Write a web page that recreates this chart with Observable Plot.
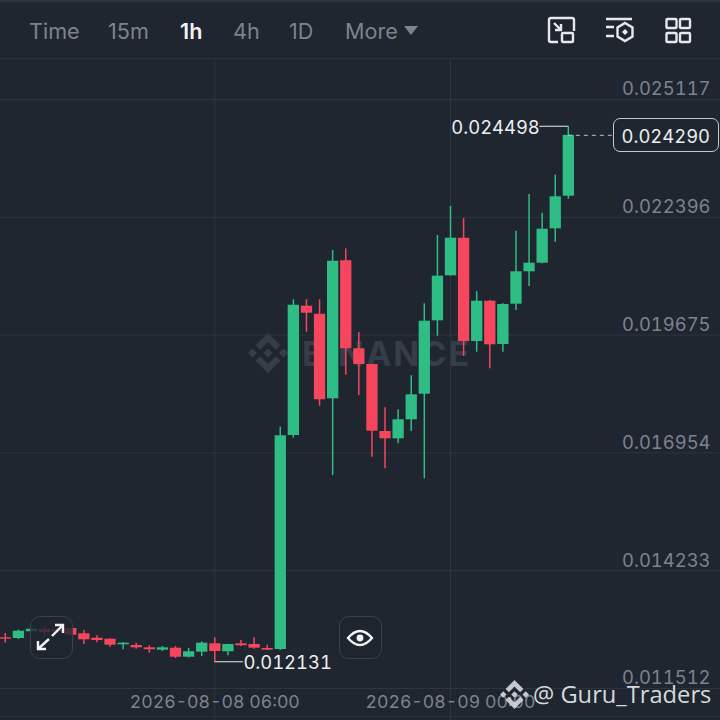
<!DOCTYPE html>
<html>
<head>
<meta charset="utf-8">
<script src="https://cdn.jsdelivr.net/npm/d3@7"></script>
<script src="https://cdn.jsdelivr.net/npm/@observablehq/plot@0.6"></script>
<style>
html,body{margin:0;padding:0;background:#1f2630;}
#stage{position:relative;width:720px;height:720px;overflow:hidden;background:#1f2630;font-family:Inter,sans-serif;}
.layer{position:absolute;left:0;top:0;width:720px;height:720px;pointer-events:none;}
.tb{position:absolute;top:17px;font-size:21.6px;line-height:28px;color:#7c838e;white-space:nowrap;}
.tb.on{color:#f2f3f5;font-weight:600;}
#topline{position:absolute;left:0;top:0;width:720px;height:2px;background:#2c333e;}
#toprule{position:absolute;left:0;top:58px;width:720px;height:1px;background:#2b323c;}
#botrule{position:absolute;left:0;top:716px;width:720px;height:1px;background:#2b323c;}
#wm{position:absolute;left:302px;top:333px;font-size:34px;line-height:42px;font-weight:700;letter-spacing:2px;color:#363d48;}
.btn{position:absolute;top:616px;width:41px;height:41px;border:1.5px solid #3a414c;border-radius:10px;background:rgba(31,38,48,.8);}
#guru{position:absolute;left:533px;top:678px;font-family:"Open Sans",sans-serif;font-size:23.7px;line-height:32px;color:#d6d9dd;white-space:nowrap;}
#plotbox{position:absolute;left:0;top:59px;}
#lastbox{position:absolute;box-sizing:border-box;left:613px;width:106px;height:34px;border:1.3px solid #c4c8ce;border-radius:7px;background:#1f2630;}
</style>
</head>
<body>
<div id="stage">
  <div class="layer" id="back">
    <div id="topline"></div><div id="toprule"></div><div id="botrule"></div>
    <svg style="position:absolute;left:248px;top:333px" width="40" height="40" viewBox="0 0 126.61 126.61" fill="#363d48">
      <path d="M38.73 53.2l24.59-24.58 24.6 24.6 14.3-14.31L63.32 0 24.42 38.9z"/><path d="M0 63.31l14.3-14.31 14.31 14.31-14.31 14.3z"/><path d="M38.73 73.41L63.32 98l24.6-24.6 14.31 14.29-38.9 38.91-38.91-38.88-.02-.02z"/><path d="M98 63.31l14.3-14.31 14.31 14.3-14.31 14.32z"/><path d="M77.83 63.3L63.32 48.78 52.59 59.51l-1.24 1.23-2.54 2.54 14.51 14.5 14.51-14.47z"/>
    </svg>
    <div id="wm">BINANCE</div>
  </div>
  <div id="plotbox"></div>
  <div class="layer" id="front">
    <span class="tb" style="left:29px">Time</span>
    <span class="tb" style="left:108px">15m</span>
    <span class="tb on" style="left:180px">1h</span>
    <span class="tb" style="left:233px">4h</span>
    <span class="tb" style="left:289px">1D</span>
    <span class="tb" style="left:345px">More</span>
    <svg class="layer" viewBox="0 0 720 720" fill="none" stroke="#e6e8eb" stroke-width="2.4">
      <path d="M404 26h14l-7 9z" fill="#7c838e" stroke="none"/>
      <path d="M558 42h-7q-2 0-2-2V20q0-2 2-2h21q2 0 2 2v11"/>
      <rect x="562" y="33" width="11" height="9" rx="1"/>
      <path d="M554 23l7 7M561 24v6h-6"/>
      <path d="M606 19h26M606 27h8M606 36h8" />
      <path d="M625 23l7.5 4.5v9L625 41l-7.5-4.5v-9z"/>
      <path d="M625 29l3 3-3 3-3-3z" fill="#e6e8eb" stroke="none"/>
      <rect x="666.5" y="19" width="10" height="9" rx="1"/><rect x="680" y="19" width="10" height="9" rx="1"/>
      <rect x="666.5" y="33" width="10" height="9" rx="1"/><rect x="680" y="33" width="10" height="9" rx="1"/>
    </svg>
    <div class="btn" style="left:30px"></div>
    <div class="btn" style="left:339px"></div>
    <svg class="layer" viewBox="0 0 720 720" fill="none" stroke="#f2f3f5" stroke-width="2.4">
      <path d="M52 636l11-11M55 625h8v8M49 639l-11 10M38 641v8h8"/>
      <path d="M348 638q12-14 24 0q-12 14-24 0z"/>
      <circle cx="360" cy="638" r="3.4" fill="#f2f3f5" stroke="none"/>
    </svg>
    <svg style="position:absolute;left:500px;top:680px;opacity:.9" width="29" height="29" viewBox="0 0 126.61 126.61" fill="#d6d9dd">
      <path d="M38.73 53.2l24.59-24.58 24.6 24.6 14.3-14.31L63.32 0 24.42 38.9z"/><path d="M0 63.31l14.3-14.31 14.31 14.31-14.31 14.3z"/><path d="M38.73 73.41L63.32 98l24.6-24.6 14.31 14.29-38.9 38.91-38.91-38.88-.02-.02z"/><path d="M98 63.31l14.3-14.31 14.31 14.3-14.31 14.32z"/><path d="M77.83 63.3L63.32 48.78 52.59 59.51l-1.24 1.23-2.54 2.54 14.51 14.5 14.51-14.47z"/>
    </svg>
    <div id="guru">@ Guru_Traders</div>
  </div>
</div>
<script>
const opens = [0.012683,0.012667,0.012822,0.012868,0.012864,0.012898,0.012776,0.012674,0.012651,0.012522,0.012506,0.012452,0.012397,0.012443,0.012235,0.012351,0.012545,0.012360,0.012545,0.012529,0.012436,0.012413,0.017356,0.020343,0.020158,0.018204,0.021391,0.019359,0.018996,0.017448,0.017280,0.017719,0.018310,0.020005,0.021045,0.021913,0.019527,0.020458,0.019458,0.020389,0.021137,0.021336,0.022130,0.022883];
const closes = [0.012651,0.012836,0.012882,0.012806,0.012817,0.012743,0.012637,0.012621,0.012512,0.012559,0.012452,0.012406,0.012452,0.012235,0.012360,0.012559,0.012367,0.012529,0.012499,0.012443,0.012397,0.017349,0.020366,0.020181,0.018181,0.021382,0.019359,0.018996,0.017455,0.017280,0.017719,0.018296,0.019996,0.021036,0.021913,0.019527,0.020458,0.019451,0.020382,0.021137,0.021336,0.022121,0.022870,0.024290];
const highs = [0.012783,0.012859,0.012898,0.012928,0.012898,0.012910,0.012852,0.012730,0.012660,0.012568,0.012559,0.012499,0.012482,0.012482,0.012436,0.012591,0.012683,0.012535,0.012621,0.012683,0.012512,0.017548,0.020491,0.020491,0.020491,0.021629,0.021668,0.019735,0.019000,0.017996,0.017950,0.018735,0.020398,0.021976,0.022646,0.022368,0.020682,0.020474,0.020398,0.022075,0.022923,0.022491,0.023369,0.024498];
const lows = [0.012559,0.012644,0.012822,0.012730,0.012783,0.012730,0.012529,0.012568,0.012466,0.012406,0.012420,0.012328,0.012367,0.012205,0.012221,0.012251,0.012131,0.012268,0.012482,0.012420,0.012390,0.012390,0.017294,0.019742,0.018033,0.016432,0.018749,0.018280,0.016855,0.016587,0.017164,0.017448,0.016356,0.019650,0.021040,0.019181,0.019280,0.018897,0.019280,0.020243,0.020797,0.021322,0.021821,0.022814];
const firstHour = "2026-08-07T14:00:00Z";
const priceTicks = [0.025117,0.022396,0.019675,0.016954,0.014233,0.011512];
const timeTicks = ["2026-08-08T06:00:00Z","2026-08-09T00:00:00Z"].map(s => new Date(s));
const timeLabels = ["2026-08-08 06:00","2026-08-09 00:00"];
const maxPrice = 0.024498, minPrice = 0.012131, lastPrice = 0.024290;

const GREEN = "#2ebd85", RED = "#f6465d", GRID = "#2e353f", AXIS = "#7c838e", WHITE = "#eceef0";
const start = new Date(firstHour);
const candles = opens.map((o,i) => ({t:d3.utcHour.offset(start,i),o,c:closes[i],h:highs[i],l:lows[i],col:closes[i]>=o?GREEN:RED}));
const maxT = candles[43].t, minT = candles[16].t;
const maxLabelT = d3.utcMinute.offset(maxT,-131), minLabelT = d3.utcMinute.offset(minT,131), lastEndT = d3.utcMinute.offset(maxT,204);
const fmt = v => v.toFixed(6);

const chart = Plot.plot({
  width:720,height:661,margin:0,
  style:{background:"transparent",fontFamily:"Inter,sans-serif",overflow:"visible",fontVariantNumeric:"tabular-nums"},
  x:{type:"utc",domain:timeTicks,range:[214.3,450],axis:null},
  y:{domain:[priceTicks[5],priceTicks[0]],range:[629,40],axis:null},
  marks:[
    Plot.ruleY(priceTicks,{stroke:GRID,strokeWidth:1}),
    Plot.ruleX(timeTicks,{stroke:GRID,strokeWidth:1}),
    Plot.ruleX(candles,{x:"t",y1:"l",y2:"h",stroke:"col",strokeWidth:1.5}),
    Plot.ruleX(candles,{x:"t",y1:d=>Math.min(d.o,d.c),y2:d=>Math.max(d.o,d.c),stroke:"col",strokeWidth:11.3}),
    Plot.text(priceTicks,{y:d=>d,text:fmt,frameAnchor:"right",dx:-10,dy:-10,fill:AXIS,fontSize:18.4}),
    Plot.text(timeTicks,{x:d=>d,text:(d,i)=>timeLabels[i],frameAnchor:"bottom",dy:-13,fill:AXIS,fontSize:17.7}),
    Plot.ruleY([maxPrice],{x1:maxLabelT,x2:maxT,stroke:"#c9ccd1",strokeWidth:1.2}),
    Plot.text([maxPrice],{x:maxLabelT,y:d=>d,text:fmt,textAnchor:"end",dx:0,dy:2,fill:WHITE,fontSize:18.4}),
    Plot.ruleY([minPrice],{x1:minT,x2:minLabelT,stroke:"#c9ccd1",strokeWidth:1.2}),
    Plot.text([minPrice],{x:minLabelT,y:d=>d,text:fmt,textAnchor:"start",dx:0,dy:1,fill:WHITE,fontSize:18.4}),
    Plot.ruleY([lastPrice],{x1:maxT,x2:lastEndT,stroke:"#b9bdc3",strokeWidth:1,strokeDasharray:"4 4"}),
  ]
});
document.getElementById("plotbox").appendChild(chart);
const yLast = chart.scale("y").apply(lastPrice)+59;
const box = document.createElement("div");
box.id="lastbox"; box.style.top=(yLast-17)+"px";
document.getElementById("front").appendChild(box);
const lbl = document.createElement("div");
lbl.textContent = fmt(lastPrice);
lbl.style.cssText = `position:absolute;right:10px;top:${yLast-13}px;font-size:18.4px;line-height:28px;font-variant-numeric:tabular-nums;color:${WHITE}`;
document.getElementById("front").appendChild(lbl);
</script>
</body>
</html>
